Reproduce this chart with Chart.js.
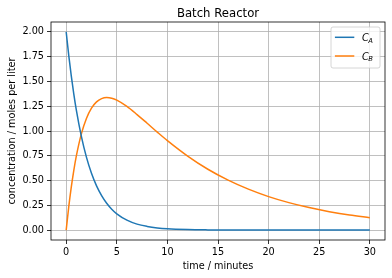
<!DOCTYPE html>
<html>
<head>
<meta charset="UTF-8">
<script src="https://cdn.jsdelivr.net/npm/chart.js"></script>
<style>
  body { margin: 0; background: #fff; }
  canvas { display: block; }
</style>
</head>
<body>
<canvas id="grafica" width="392" height="278"></canvas>
<script>
// values
const times = [0, 0.25, 0.5, 0.75, 1, 1.5, 2, 2.5, 3, 3.5, 4, 4.5, 5, 6, 7, 8, 9, 10,
  12, 14, 16, 18, 20, 22, 24, 26, 28, 30];
const concA = [2.0, 1.765, 1.558, 1.375, 1.213, 0.945, 0.736, 0.573, 0.446, 0.348, 0.271, 0.211, 0.164,
  0.100, 0.060, 0.037, 0.022, 0.013, 0.005, 0.002, 0.001, 0, 0, 0, 0, 0, 0, 0];
const concB = [0, 0.232, 0.431, 0.601, 0.746, 0.971, 1.127, 1.231, 1.294, 1.327, 1.338, 1.331, 1.311,
  1.248, 1.166, 1.078, 0.989, 0.903, 0.747, 0.614, 0.504, 0.413, 0.338, 0.277, 0.227, 0.186, 0.152, 0.125];
const seriesLabels = ["C_A", "C_B"];
const xTicks = [0, 5, 10, 15, 20, 25, 30];
const yTicks = [0, 0.25, 0.5, 0.75, 1, 1.25, 1.5, 1.75, 2];

const FONT = "'DejaVu Sans', sans-serif";
const tickFont = { family: FONT, size: 9.7 };

function pts(xs, ys) {
  return xs.map((x, i) => ({ x, y: ys[i] }));
}

// title, axes frame and legend drawn the way matplotlib does
const mplDecor = {
  id: "mplDecor",
  afterDatasetsDraw(chart) {
    const { ctx, chartArea: a } = chart;
    ctx.save();
    ctx.strokeStyle = "#000";
    ctx.lineWidth = 0.8;
    ctx.strokeRect(a.left, a.top, a.right - a.left, a.bottom - a.top);

    ctx.fillStyle = "#000";
    ctx.font = "11.7px " + FONT;
    ctx.textAlign = "center";
    ctx.textBaseline = "alphabetic";
    ctx.fillText("Batch Reactor", (a.left + a.right) / 2, a.top - 5);

    // legend, upper right
    const fs = 9.7;
    const ds = chart.data.datasets;
    const bw = 49, rowH = 18.7;
    const bh = 41;
    const bx = a.right - 5 - bw, by = a.top + 5;
    ctx.beginPath();
    ctx.roundRect(bx, by, bw, bh, 2);
    ctx.fillStyle = "rgba(255,255,255,0.8)";
    ctx.fill();
    ctx.strokeStyle = "#cccccc";
    ctx.lineWidth = 0.8;
    ctx.stroke();
    ds.forEach((d, i) => {
      const cy = by + 10.3 + i * rowH;
      ctx.beginPath();
      ctx.strokeStyle = d.borderColor;
      ctx.lineWidth = 1.5;
      ctx.moveTo(bx + 3.9, cy);
      ctx.lineTo(bx + 3.9 + 19.4, cy);
      ctx.stroke();
      const [main, sub] = d.label.split("_");
      ctx.fillStyle = "#000";
      ctx.textAlign = "left";
      ctx.textBaseline = "alphabetic";
      ctx.font = "italic " + fs + "px " + FONT;
      const tx = bx + 3.9 + 19.4 + 7.8;
      ctx.fillText(main, tx, cy + 3.6);
      const w = ctx.measureText(main).width;
      ctx.font = "italic " + (fs * 0.7) + "px " + FONT;
      ctx.fillText(sub, tx + w - 0.5, cy + 5.4);
    });
    ctx.restore();
  }
};

const ctx = document.getElementById("grafica").getContext("2d");
new Chart(ctx, {
  type: "line",
  data: {
    datasets: [
      { label: seriesLabels[0], data: pts(times, concA), borderColor: "#1f77b4" },
      { label: seriesLabels[1], data: pts(times, concB), borderColor: "#ff7f0e" }
    ]
  },
  options: {
    responsive: false,
    animation: false,
    layout: { padding: { top: 22, right: 7, left: 0, bottom: 0 } },
    elements: {
      line: { borderWidth: 1.5, cubicInterpolationMode: "monotone", fill: false },
      point: { radius: 0 }
    },
    plugins: {
      legend: { display: false },
      title: { display: false },
      tooltip: { enabled: false }
    },
    scales: {
      x: {
        type: "linear",
        min: -1.5,
        max: 31.5,
        afterFit: (s) => { s.height = 38; },
        afterBuildTicks: (s) => { s.ticks = xTicks.map((v) => ({ value: v })); },
        ticks: { font: tickFont, color: "#000", padding: 3, maxRotation: 0, callback: (v) => String(v) },
        grid: { color: "#b0b0b0", lineWidth: 0.8, tickLength: 4, tickColor: "#000" },
        border: { display: false },
        title: { display: true, text: "time / minutes", color: "#000", font: tickFont, padding: { top: 0, bottom: 6 } }
      },
      y: {
        type: "linear",
        min: -0.1,
        max: 2.1,
        afterFit: (s) => { s.width = 51; },
        afterBuildTicks: (s) => { s.ticks = yTicks.map((v) => ({ value: v })); },
        ticks: { font: tickFont, color: "#000", padding: 3, callback: (v) => v.toFixed(2) },
        grid: { color: "#b0b0b0", lineWidth: 0.8, tickLength: 4, tickColor: "#000" },
        border: { display: false },
        title: { display: true, text: "concentration / moles per liter", color: "#000", font: tickFont, padding: { top: 7, bottom: 0 } }
      }
    }
  },
  plugins: [mplDecor]
});
</script>
</body>
</html>
